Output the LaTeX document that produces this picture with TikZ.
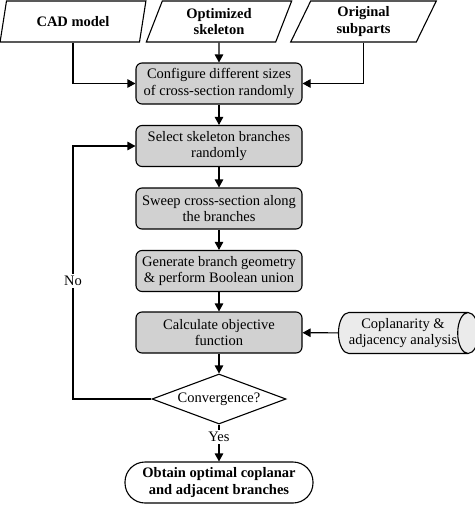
\documentclass[tikz,border=0pt]{standalone}
\usepackage{fontspec}
\setmainfont{Liberation Serif}
\usetikzlibrary{calc}
\usetikzlibrary{arrows.meta}
\usetikzlibrary{shapes.geometric}

\begin{document}
\begin{tikzpicture}[x=1pt, y=-1pt, line width=1.1pt,
  >={Triangle[length=8pt,width=8.5pt]},
  font=\fontsize{14.5}{16.5}\selectfont,
  datain/.style={draw, trapezium, trapezium left angle=71, trapezium right angle=109,
    trapezium stretches=true, minimum width=146pt, minimum height=41pt, inner sep=0pt,
    align=center, font=\fontsize{14.5}{16.5}\selectfont\bfseries},
  procbox/.style={draw, fill=black!18, rounded corners=6pt, minimum width=166pt,
    minimum height=41pt, inner sep=0pt, align=center},
  endbox/.style={draw, rounded corners=20pt, minimum width=188pt, minimum height=41pt,
    inner sep=0pt, align=center, font=\fontsize{14.5}{16.5}\selectfont\bfseries},
  testbox/.style={draw, diamond, aspect=2.68, minimum width=134pt, minimum height=50pt,
    inner sep=0pt, align=center},
  storebox/.style={draw, cylinder, aspect=0.7, fill=black!8, minimum height=140pt,
    minimum width=41pt, inner sep=0pt, align=center}]
\useasboundingbox (0,0) rectangle (474,506);

% inputs
\node (cad) at (73,21.5) [datain] {CAD model};
\node (opt) at (219,21.5) [datain] {Optimized\\skeleton};
\node (orig) at (363.5,21.5) [datain] {Original\\subparts};

% main chain
\node (conf) at (219,83.5) [procbox] {Configure different sizes\\of cross-section randomly};
\node (sel) at (219,146) [procbox] {Select skeleton branches\\randomly};
\node (sweep) at (219,208.5) [procbox] {Sweep cross-section along\\the branches};
\node (gen) at (219,271) [procbox] {Generate branch geometry\\\& perform Boolean union};
\node (calc) at (219,332.5) [procbox] {Calculate objective\\function};
\node (conv) at (219,399) [testbox] {Convergence?};
\node (res) at (219,482.5) [endbox] {Obtain optimal coplanar\\and adjacent branches};
\node (anal) at (403,333) [storebox] {Coplanarity \&\\adjacency analysis};

\draw[->] (cad) |- (conf);
\draw[->] (orig) |- (conf);
\draw[->] (opt) -- (conf);
\draw[->] (conf) -- (sel);
\draw[->] (sel) -- (sweep);
\draw[->] (sweep) -- (gen);
\draw[->] (gen) -- (calc);
\draw[->] (calc) -- (conv);
\draw[->] (anal) -- (calc);
\draw[->] (conv) -- (res);
\coordinate (back) at (conv.west -| cad.south);
\draw[->] (conv.west) -- (back) |- (sel.west);

\node (no) at (73,281) [fill=white, inner sep=2pt] {No};
\node (yes) at (219,437) [fill=white, inner sep=2pt] {Yes};

\end{tikzpicture}
\end{document}
